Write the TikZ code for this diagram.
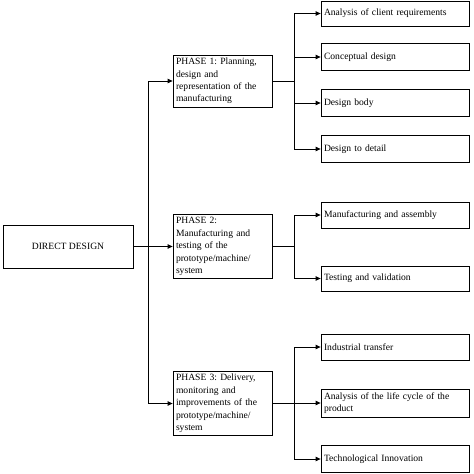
\documentclass[tikz,border=0pt]{standalone}
\usepackage{fontspec}
\setmainfont{Liberation Serif}
\usetikzlibrary{arrows.meta,positioning}
\frenchspacing

\begin{document}
\begin{tikzpicture}[
        x=1pt, y=-1pt,
        font=\fontsize{9.6}{12.4}\selectfont,
        every path/.style={line width=0.8pt},
        phasebox/.style={
            draw,
            text width=93pt,
            minimum width=99pt,
            align=left,
            inner sep=3pt
        },
        taskbox/.style={
            draw,
            text width=142pt,
            minimum width=148pt,
            minimum height=27pt,
            align=left,
            inner sep=3pt
        },
        arrow/.style={-{Triangle[length=5pt,width=4.5pt]}}
    ]
        \useasboundingbox (0,0) rectangle (474,474);

        \node[draw, minimum width=130pt, minimum height=43pt] (direct) at (68,246.5) {DIRECT DESIGN};

        \node[phasebox, minimum height=50pt] (ph1) at (222.5,81) {PHASE 1: Planning,\\ design and\\ representation of the\\ manufacturing};
        \node[phasebox, minimum height=63pt] (ph2) at (222.5,246.5) {PHASE 2:\\ Manufacturing and\\ testing of the\\ prototype/machine/\\ system};
        \node[phasebox, minimum height=57pt] (ph3) at (222.5,403.5) {PHASE 3: Delivery,\\ monitoring and\\ improvements of the\\ prototype/machine/\\ system};

        \node[taskbox, minimum height=25pt] (a1) at (395,13.5) {Analysis of client requirements};
        \node[taskbox] (a2) at (395,57) {Conceptual design};
        \node[taskbox] (a3) at (395,103) {Design body};
        \node[taskbox] (a4) at (395,149) {Design to detail};

        \node[taskbox, minimum height=26pt] (b1) at (395,215) {Manufacturing and assembly};
        \node[taskbox, minimum height=25pt] (b2) at (395,278.5) {Testing and validation};

        \node[taskbox, minimum height=26pt] (c1) at (395,347) {Industrial transfer};
        \node[taskbox, minimum height=28pt] (c2) at (395,403) {Analysis of the life cycle of the\\ product};
        \node[taskbox] (c3) at (395,459) {Technological Innovation};

        % trunk to the phases
        \coordinate (trunk) at (148,246.5);
        \draw (direct.east) -- (trunk);
        \draw (trunk |- ph1.west) -- (trunk |- ph3.west);
        \foreach \p in {ph1,ph2,ph3}
            \draw[arrow] (trunk |- \p.west) -- (\p.west);

        % branches to the tasks
        \coordinate (s1) at (294,81);
        \coordinate (s2) at (294,246.5);
        \coordinate (s3) at (294,403.5);
        \draw (ph1.east) -- (s1);
        \draw (ph2.east) -- (s2);
        \draw (ph3.east) -- (s3);
        \draw (s1 |- a1.west) -- (s1 |- a4.west);
        \draw (s2 |- b1.west) -- (s2 |- b2.west);
        \draw (s3 |- c1.west) -- (s3 |- c3.west);
        \foreach \t in {a1,a2,a3,a4}
            \draw[arrow] (s1 |- \t.west) -- (\t.west);
        \foreach \t in {b1,b2}
            \draw[arrow] (s2 |- \t.west) -- (\t.west);
        \foreach \t in {c1,c2,c3}
            \draw[arrow] (s3 |- \t.west) -- (\t.west);
    \end{tikzpicture}
\end{document}
